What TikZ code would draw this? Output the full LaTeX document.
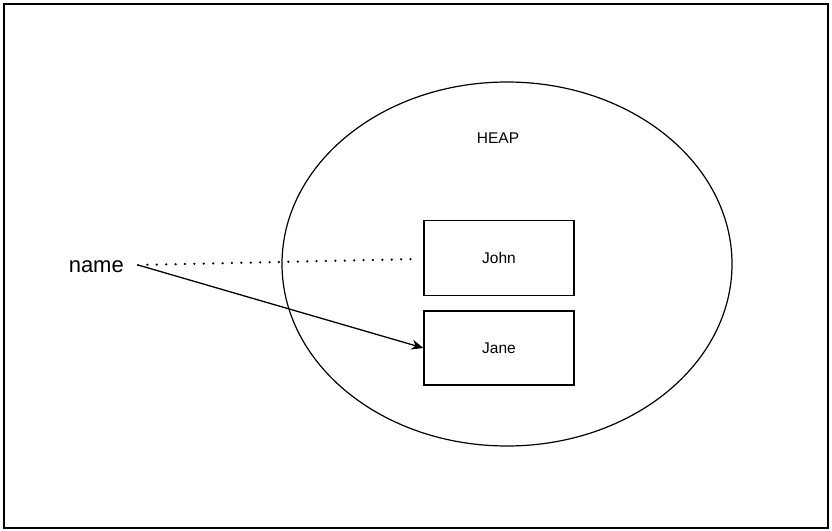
\documentclass[tikz,border=0pt]{standalone}
\usepackage{fontspec}
\setmainfont{Liberation Sans}
\usetikzlibrary{arrows.meta,shapes.geometric}
\begin{document}
\begin{tikzpicture}[x=1pt,y=-1pt,
  box/.style={draw,line width=1.2pt,minimum width=150pt,minimum height=75pt,font=\fontsize{15.5}{18}\selectfont},
  lbl/.style={font=\fontsize{15.5}{18}\selectfont}]
\useasboundingbox (0,0) rectangle (832,530);
\draw[line width=1.4pt] (4,4) rectangle (828,528);
\node[draw,ellipse,line width=1.2pt,minimum width=450pt,minimum height=364pt,inner sep=0] (heap) at (507,264) {};
\node[lbl] (heaplbl) at (498,138) {HEAP};
\node[box] (john) at (499,258) {John};
\node[box,minimum height=74pt] (jane) at (499,348) {Jane};
\node[font=\fontsize{22}{26}\selectfont,anchor=east,inner sep=0] (name) at (124,267) {name};
\coordinate (start) at (138,265);
\draw[line width=2.5pt,line cap=round,dash pattern=on 0pt off 9.4pt] (start) -- ([xshift=-6pt,yshift=-1pt]john.west);
\draw[line width=1.3pt,-{Stealth[length=12pt,width=10pt]}] (start) -- (jane.west);
\end{tikzpicture}
\end{document}
